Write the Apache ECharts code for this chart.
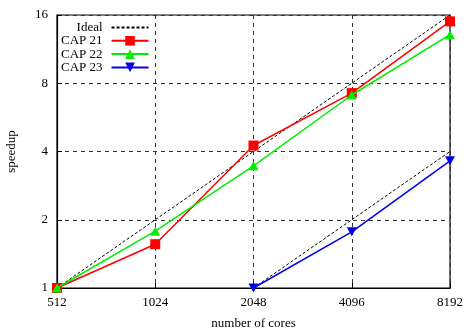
<!DOCTYPE html>
<html>
<head>
<meta charset="utf-8">
<script src="https://cdn.jsdelivr.net/npm/echarts@6/dist/echarts.min.js"></script>
<style>
  html, body { margin: 0; padding: 0; background: #fff; }
  #chart { width: 474px; height: 330px; }
</style>
</head>
<body>
<div id="chart"></div>
<script>
// Strong scaling: speedup versus number of cores (log2 on both axes)
const cores = [512, 1024, 2048, 4096, 8192];
const cap21 = [1, 1.56, 4.25, 7.24, 15.0];
const cap22 = [1, 1.78, 3.46, 7.1, 13.1];
const cap23Cores = [2048, 4096, 8192];
const cap23 = [1, 1.77, 3.64];
// Ideal scaling references
const idealFrom512 = [[512, 1], [8192, 16]];
const idealFrom2048 = [[2048, 1], [8192, 4]];

const FONT = '"Liberation Serif", "DejaVu Serif", serif';
const pair = (xs, ys) => xs.map((x, i) => [x, ys[i]]);

const chart = echarts.init(document.getElementById('chart'), null, { renderer: 'canvas' });

const gridLine = { show: true, lineStyle: { color: '#333', width: 1, type: [4, 4] } };

const idealStyle = {
  type: 'line', name: 'Ideal', symbol: 'none', silent: true,
  lineStyle: { color: '#000', width: 1, type: [3, 2] },
  itemStyle: { color: '#000' }, z: 1
};

chart.setOption({
  animation: false,
  backgroundColor: '#fff',
  textStyle: { fontFamily: FONT },
  grid: {
    left: 57, right: 24, top: 15, bottom: 42,
    outerBoundsMode: 'none', containLabel: false,
    show: true, borderColor: '#000', borderWidth: 1.2
  },
  legend: {
    orient: 'vertical', left: 61, top: 21, padding: 0,
    align: 'right', itemWidth: 37, itemHeight: 12, itemGap: 0.3,
    textStyle: { fontFamily: FONT, fontSize: 13, color: '#000', lineHeight: 12, padding: [0, 4, 0, 0] },
    data: [
      { name: 'Ideal', itemStyle: { opacity: 0 } },
      'CAP 21', 'CAP 22', 'CAP 23'
    ]
  },
  xAxis: {
    type: 'log', logBase: 2, min: 512, max: 8192, interval: 1,
    name: 'number of cores', nameLocation: 'middle', nameGap: 29,
    nameTextStyle: { fontFamily: FONT, fontSize: 13, color: '#000' },
    axisLine: { lineStyle: { color: '#000', width: 1.2 } },
    axisTick: { inside: true, length: 5, lineStyle: { color: '#000' } },
    axisLabel: { fontFamily: FONT, fontSize: 13, color: '#000', margin: 8,
      formatter: v => String(Math.round(v)) },
    splitLine: gridLine
  },
  yAxis: {
    type: 'log', logBase: 2, min: 1, max: 16, interval: 1,
    name: 'speedup', nameLocation: 'middle', nameGap: 39,
    nameTextStyle: { fontFamily: FONT, fontSize: 13, color: '#000' },
    axisLine: { lineStyle: { color: '#000', width: 1.2 } },
    axisTick: { inside: true, length: 5, lineStyle: { color: '#000' } },
    axisLabel: { fontFamily: FONT, fontSize: 13, color: '#000', margin: 9,
      formatter: v => String(Math.round(v)) },
    splitLine: gridLine
  },
  series: [
    Object.assign({ data: idealFrom512 }, idealStyle),
    Object.assign({ data: idealFrom2048 }, idealStyle),
    {
      type: 'line', name: 'CAP 21', data: pair(cores, cap21),
      symbol: 'rect', symbolSize: 10, z: 3,
      lineStyle: { color: '#ff0000', width: 1.5 }, itemStyle: { color: '#ff0000' }
    },
    {
      type: 'line', name: 'CAP 22', data: pair(cores, cap22),
      symbol: 'triangle', symbolSize: [10, 9], z: 4,
      lineStyle: { color: '#00ee00', width: 1.5 }, itemStyle: { color: '#00ee00' }
    },
    {
      type: 'line', name: 'CAP 23', data: pair(cap23Cores, cap23),
      symbol: 'triangle', symbolRotate: 180, symbolSize: [10, 9], z: 3,
      lineStyle: { color: '#0000ee', width: 1.5 }, itemStyle: { color: '#0000ee' }
    }
  ]
});
</script>
</body>
</html>
